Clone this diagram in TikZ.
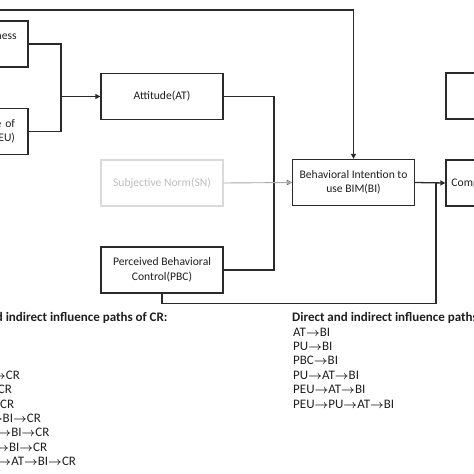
\documentclass[tikz,border=0pt]{standalone}
\usepackage{fontspec}
\setmainfont{Carlito}
\usepackage{tikz}
\usetikzlibrary{arrows.meta, positioning}

\definecolor{lnc}{HTML}{2A2A2A}
\definecolor{txc}{HTML}{1E1E1E}
\definecolor{snline}{HTML}{A8A8A8}
\definecolor{snbox}{HTML}{DADADA}
\definecolor{sntext}{HTML}{BDBDBD}
\newcommand{\pathar}{{\boldmath$\rightarrow$}}

\begin{document}
\begin{tikzpicture}[x=1pt,y=-1pt,
  box/.style={draw=lnc,line width=1.3pt,minimum width=122pt,minimum height=46pt,
    inner sep=1pt,align=center,text=txc,font=\fontsize{11.6}{14.5}\selectfont},
  gbox/.style={box,draw=snbox,text=sntext},
  ln/.style={draw=lnc,line width=1.3pt},
  arr/.style={ln,-{Triangle[length=5pt,width=5pt]}},
  garr/.style={draw=snline,line width=0.9pt,-{Triangle[length=5pt,width=4pt]}},
  head/.style={anchor=base west,inner sep=0pt,text=txc,font=\fontsize{13}{15}\selectfont\bfseries},
  item/.style={anchor=base west,inner sep=0pt,text=txc,font=\fontsize{13}{15}\selectfont}]
\useasboundingbox (0,0) rectangle (474,474);
\clip (0,0) rectangle (474,474);

% boxes
\node[box] (PU) at (-33,44) {Perceived Usefulness\\(PU)};
\node[box,text width=96pt,align=right] (PEU) at (-33,131.5) {Perceived Ease of\\Use(PEU)};
\node[box] (AT) at (162,96.5) {Attitude(AT)};
\node[gbox] (SN) at (162,183) {Subjective Norm(SN)};
\node[box] (PBC) at (162,270) {Perceived Behavioral\\Control(PBC)};
\node[box] (BI) at (353.5,182.5) {Behavioral Intention to\\use BIM(BI)};
\node[box] (TR) at (507,96) {};
\node[box] (CR) at (507,183) {Compliance Results(CR)};

% connectors
\coordinate (jA) at (61,96.5);
\coordinate (jB) at (274,182.5);
\coordinate (jC) at (436,182.5);
\coordinate (top) at (-10,10);
\draw[ln] (PU.east) -| (jA);
\draw[ln] (PEU.east) -| (jA);
\draw[arr] (jA) -- (AT.west);
\draw[ln] (AT.east) -| (jB);
\draw[ln] (PBC.east) -| (jB);
\draw[arr] (jB) -- (BI.west);
\draw[garr] (SN.east) -- (BI.west);
\draw[arr] (top) -| (BI.north);
\draw[ln] (PBC.south) -- ++(0,10) -| (jC);
\draw[arr] (BI.east) -- (CR.west);

% paths
\node[head] (hCR) at (-53,321) {Direct and indirect influence paths of CR:};
\node[head] (hBI) at (292,321) {Direct and indirect influence paths of BI:};
\foreach \t [count=\i from 4] in {PBC\pathar BI\pathar CR, AT\pathar BI\pathar CR,
    PU\pathar BI\pathar CR, PU\pathar AT\pathar BI\pathar CR,
    PEU\pathar PU\pathar BI\pathar CR, PEU\pathar AT\pathar BI\pathar CR,
    PEU\pathar PU\pathar AT\pathar BI\pathar CR}
  \node[item] (cr\i) at (-53,{336+14.4*(\i-1)}) {\t};
\foreach \t [count=\i] in {AT\pathar BI, PU\pathar BI, PBC\pathar BI,
    PU\pathar AT\pathar BI, PEU\pathar AT\pathar BI, PEU\pathar PU\pathar AT\pathar BI}
  \node[item] (bi\i) at (293,{336+14.4*(\i-1)}) {\t};
\end{tikzpicture}
\end{document}
